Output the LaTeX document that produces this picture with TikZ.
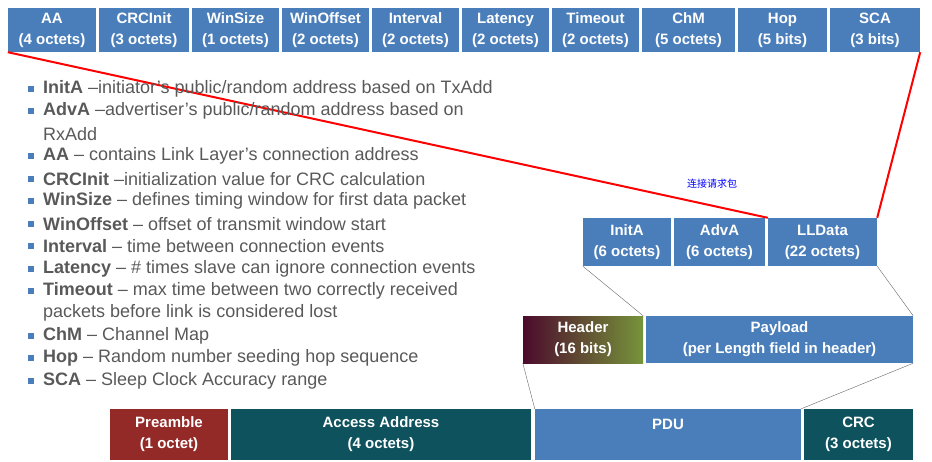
\documentclass[tikz,border=0pt]{standalone}
\usepackage{fontspec}
\setmainfont{Liberation Sans}
\newfontfamily\cjk{Noto Sans CJK SC}
\usetikzlibrary{positioning}
\definecolor{fieldblue}{HTML}{4A7EBB}
\definecolor{fieldteal}{HTML}{0E525E}
\definecolor{fieldred}{HTML}{942A28}
\definecolor{hdrdark}{HTML}{4C0A2C}
\definecolor{hdrolive}{HTML}{76943A}
\definecolor{bodygray}{HTML}{595959}
\newcommand{\fld}[7]{\node[field,#6,minimum width=#4-#2,minimum height=#5-#3] (#1) at ({(#2+#4)/2},{(#3+#5)/2}) {#7};}
\begin{document}
\begin{tikzpicture}[x=1pt,y=-1pt,
        field/.style={
            rectangle,
            inner sep=0pt,
            text=white,
            align=center,
            font=\fontsize{15}{21}\selectfont\bfseries
        },
        blue/.style={fill=fieldblue},
        teal/.style={fill=fieldteal},
        link/.style={draw=gray!80!black, thin},
        zoomline/.style={draw=red, line width=2pt},
        item/.style={
            anchor=west,
            inner sep=0pt,
            text=bodygray,
            font=\fontsize{18}{22}\selectfont
        },
        bullet/.style={fill=fieldblue, minimum size=6pt, inner sep=0pt}
    ]
    \useasboundingbox (0,0) rectangle (932,461);
    % connection request fields
    \fld{aa}{8}{8}{96}{52}{blue}{AA\\(4 octets)}
    \fld{crc}{99}{8}{189}{52}{blue}{CRCInit\\(3 octets)}
    \fld{ws}{192}{8}{279}{52}{blue}{WinSize\\(1 octets)}
    \fld{wo}{282}{8}{369}{52}{blue}{WinOffset\\(2 octets)}
    \fld{iv}{372}{8}{459}{52}{blue}{Interval\\(2 octets)}
    \fld{lat}{462}{8}{549}{52}{blue}{Latency\\(2 octets)}
    \fld{to}{552}{8}{639}{52}{blue}{Timeout\\(2 octets)}
    \fld{chm}{642}{8}{735}{52}{blue}{ChM\\(5 octets)}
    \fld{hop}{738}{8}{827}{52}{blue}{Hop\\(5 bits)}
    \fld{sca}{830}{8}{920}{52}{blue}{SCA\\(3 bits)}
    % payload fields
    \fld{inita}{583}{218}{671}{266}{blue}{InitA\\(6 octets)}
    \fld{adva}{674}{218}{765}{266}{blue}{AdvA\\(6 octets)}
    \fld{lldata}{768}{218}{877}{266}{blue}{LLData\\(22 octets)}
    % PDU
    \fld{hdr}{523}{316}{643}{363}{left color=hdrdark,right color=hdrolive}{Header\\(16 bits)}
    \fld{pay}{646}{316}{913}{363}{blue}{Payload\\(per Length field in header)}
    % packet
    \fld{pre}{110}{409}{228}{460}{fill=fieldred}{Preamble\\(1 octet)}
    \fld{acc}{231}{409}{531}{460}{teal}{Access Address\\(4 octets)}
    \fld{pdu}{535}{409}{801}{460}{blue}{PDU\\\phantom{x}}
    \fld{crcf}{804}{409}{913}{460}{teal}{CRC\\(3 octets)}

    \node[text=blue, inner sep=0pt, font=\cjk\fontsize{10}{12}\selectfont] (title) at (712,184) {连接请求包};

    \draw[zoomline] (aa.south west) -- (lldata.north west);
    \draw[zoomline] (sca.south east) -- (lldata.north east);
    \draw[link] (inita.south west) -- (hdr.north east);
    \draw[link] (lldata.south east) -- (pay.north east);
    \draw[link] (hdr.south west) -- (pdu.north west);
    \draw[link] (pay.south east) -- (pdu.north east);

    % field descriptions
    \foreach \y/\t in {89/{\textbf{InitA} --initiator's public/random address based on TxAdd},
        111/{\textbf{AdvA} --advertiser's public/random address based on},
        156/{\textbf{AA} -- contains Link Layer's connection address},
        179/{\textbf{CRCInit} --initialization value for CRC calculation},
        201/{\textbf{WinSize} -- defines timing window for first data packet},
        224/{\textbf{WinOffset} -- offset of transmit window start},
        246/{\textbf{Interval} -- time between connection events},
        269/{\textbf{Latency} -- \# times slave can ignore connection events},
        291/{\textbf{Timeout} -- max time between two correctly received},
        336/{\textbf{ChM} -- Channel Map},
        358/{\textbf{Hop} -- Random number seeding hop sequence},
        381/{\textbf{SCA} -- Sleep Clock Accuracy range}} {
        \node[bullet] at (31,\y) {};
        \node[item] at (43,\y) {\t};
    }
    \node[item] (cont1) at (43,134) {RxAdd};
    \node[item] (cont2) at (43,313) {packets before link is considered lost};
\end{tikzpicture}
\end{document}
